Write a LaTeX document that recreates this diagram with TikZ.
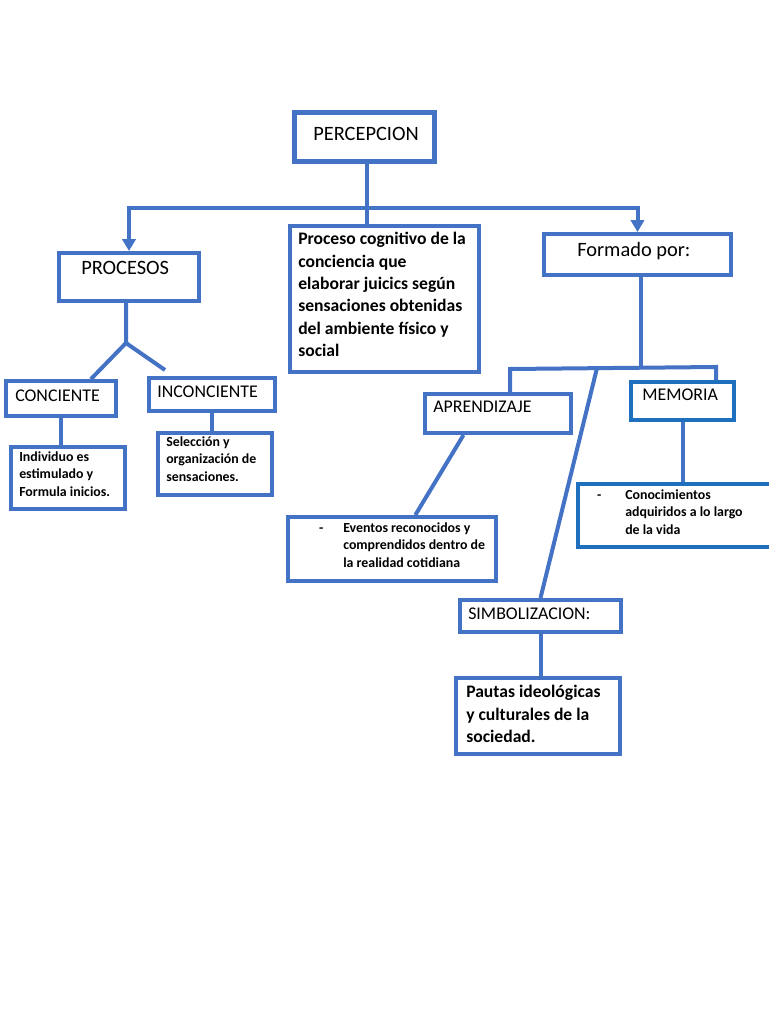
\documentclass[tikz,border=0pt]{standalone}
\usepackage{fontspec}
\setmainfont{Carlito}
\usetikzlibrary{calc}
\usetikzlibrary{positioning}
\usetikzlibrary{arrows.meta}
\definecolor{blu}{HTML}{4472C4}
\definecolor{dblu}{HTML}{1F6FBF}

\begin{document}
\begin{tikzpicture}[x=0.75pt, y=-0.75pt,
		box/.style={rectangle, draw=blu, line width=3pt, inner sep=0pt},
		sz/.style 2 args={minimum width=#1*0.75pt, minimum height=#2*0.75pt},
		con/.style={draw=blu, line width=3pt},
		arr/.style={con, -{Triangle[length=9pt, width=10pt]}},
		big/.style={font=\fontsize{15.3}{18}\selectfont, inner sep=0pt, anchor=base west},
		mid/.style={font=\fontsize{13.4}{16}\selectfont, inner sep=0pt, anchor=base west},
		txt/.style={font=\fontsize{13.2}{16.8}\selectfont\bfseries, inner sep=0pt, align=left, anchor=north west},
		sml/.style={font=\fontsize{10.4}{13.4}\selectfont\bfseries, inner sep=0pt, align=left, anchor=north west}]
	\useasboundingbox[fill=white] (0,0) rectangle (768,1024);
	
	% cajas
	\node[box, line width=3.75pt, sz={140}{49}] (perc) at (364.5,137) {};
	\node[box, sz={140}{48}] (proc) at (129,277) {};
	\node[box, sz={189}{146}] (cog) at (384.5,299) {};
	\node[box, sz={187}{41}] (form) at (637.5,254.5) {};
	\node[box, sz={110}{35}] (conc) at (61,398.5) {};
	\node[box, sz={126}{33}] (inconc) at (212,394.5) {};
	\node[box, sz={114}{62}] (indiv) at (68,478) {};
	\node[box, sz={114}{62}] (selec) at (215,464) {};
	\node[box, sz={146}{39}] (apren) at (498,413.5) {};
	\node[box, draw=dblu, sz={103}{38}] (memo) at (682.5,401) {};
	\node[box, draw=dblu, sz={195}{63}] (conoc) at (675.5,515.5) {};
	\node[box, sz={208}{64}] (event) at (392,549) {};
	\node[box, sz={161}{32}] (simb) at (540.5,616) {};
	\node[box, sz={164}{76}] (paut) at (538,716) {};
	
	% textos
	\node[big] (tperc) at (313,140) {PERCEPCION};
	\node[big] (tproc) at (81,274) {PROCESOS};
	\node[big] (tform) at (577,256) {Formado por:};
	\node[mid] (tconc) at (15,401) {CONCIENTE};
	\node[mid] (tinconc) at (157,397) {INCONCIENTE};
	\node[mid] (tapren) at (433,412) {APRENDIZAJE};
	\node[mid] (tmemo) at (642,400) {MEMORIA};
	\node[mid] (tsimb) at (468,619) {SIMBOLIZACION:};
	\node[txt] (tcog) at (298,232) {Proceso cognitivo de la\\conciencia que\\elaborar juicics según\\sensaciones obtenidas\\del ambiente físico y\\social};
	\node[sml] (tindiv) at (19,451) {Individuo es\\estimulado y\\Formula inicios.};
	\node[sml] (tselec) at (166,436) {Selección y\\organización de\\sensaciones.};
	\node[sml] (tconoc) at (625,489) {\llap{-\hspace{18pt}}Conocimientos\\adquiridos a lo largo\\de la vida};
	\node[sml] (tevent) at (343,522) {\llap{-\hspace{15pt}}Eventos reconocidos y\\comprendidos dentro de\\la realidad cotidiana};
	\node[txt] (tpaut) at (466,685) {Pautas ideológicas\\y culturales de la\\sociedad.};
	
	\coordinate (j1) at (367,208);
	\coordinate (fork) at (126,343);
	\coordinate (j2) at (641,368);
	\coordinate (ja) at (510,369);
	\coordinate (jm) at (716,367);
	\coordinate (js) at (597,368);
	
	% conectores
	\draw[con] (perc.south -| j1) -- (j1 |- cog.north);
	\draw[arr] (j1) -| (proc.north);
	\draw[arr] (j1) -| (form.north);
	
	\draw[con] (proc.south -| fork) -- (fork) -- ($(conc.north east)+(-27,0)$);
	\draw[con] (fork) -- ($(inconc.north west)+(18,-6)$);
	\draw[con] (conc.south) -- (conc.south |- indiv.north);
	\draw[con] (inconc.south) -- (inconc.south |- selec.north);
	
	\draw[con] (form.south -| j2) -- (j2);
	\draw[con] (apren.north -| ja) -- (ja) -- (jm) -- (memo.north -| jm);
	\draw[con] (js) -- (simb.north);
	\draw[con] ($(apren.south west)!0.27!(apren.south east)$) -- ($(event.north west)!0.61!(event.north east)$);
	\draw[con] (memo.south) -- (memo.south |- conoc.north);
	\draw[con] (simb.south) -- (simb.south |- paut.north);
	
\end{tikzpicture}
\end{document}
